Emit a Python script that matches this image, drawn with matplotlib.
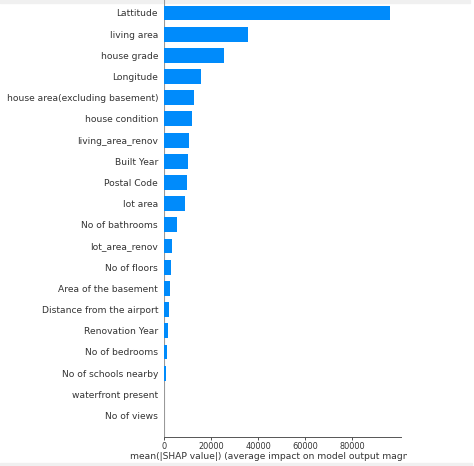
import matplotlib
matplotlib.use('Agg')
import matplotlib.pyplot as plt
from matplotlib.patches import Rectangle
from matplotlib.transforms import Bbox, TransformedBbox

# features, least important first (shap puts the top feature at the top)
features = ['No of views', 'waterfront present', 'No of schools nearby',
            'No of bedrooms', 'Renovation Year', 'Distance from the airport',
            'Area of the basement', 'No of floors', 'lot_area_renov',
            'No of bathrooms', 'lot area', 'Postal Code', 'Built Year',
            'living_area_renov', 'house condition',
            'house area(excluding basement)', 'Longitude', 'house grade',
            'living area', 'Lattitude']
mean_shap = [0, 40, 720, 1100, 1850, 2000, 2550, 2850, 3250, 5700,
             8950, 9650, 10100, 10500, 11800, 12800, 15800, 25700,
             35700, 96000]

axis_color = '#333333'
bar_color = '#008bfb'

fig = plt.figure(figsize=(4.74, 4.66), dpi=100)
W, H = 474.0, 466.0
ax = fig.add_axes([164/W, (H - 436.7)/H, (401 - 164)/W, (436.7 + 8.2)/H])
ax.set_facecolor('none')

y_pos = range(len(features))
ax.axvline(x=0, color='#999999', lw=0.8, zorder=-1)
ax.barh(y_pos, mean_shap, 0.7, align='center', color=bar_color)
ax.set_yticks(list(y_pos))
ax.set_yticklabels(features, fontsize=6.6)
ax.set_ylim(-1, len(features))

ax.xaxis.set_ticks_position('bottom')
ax.yaxis.set_ticks_position('none')
ax.spines['right'].set_visible(False)
ax.spines['top'].set_visible(False)
ax.spines['left'].set_visible(False)
ax.spines['bottom'].set_color('#555555')
ax.spines['bottom'].set_linewidth(0.7)
ax.tick_params(color=axis_color, labelcolor=axis_color)
ax.tick_params('y', pad=0.8)
ax.tick_params('x', labelsize=5.9, length=2.5, width=0.6, pad=1.5)
ax.set_xticks([0, 20000, 40000, 60000, 80000])

lbl = ax.set_xlabel('mean(|SHAP value|) (average impact on model output magnitude)',
                    fontsize=6.6, color=axis_color, labelpad=0.5)
# the reference picture cuts the label off on the right
lbl.set_clip_box(TransformedBbox(Bbox([[0, 0], [407/W, 1]]), fig.transFigure))
lbl.set_clip_on(True)

# faint screenshot borders at top and bottom
fig.patches.append(Rectangle((0, 1 - 3/H), 470/W, 3/H, transform=fig.transFigure,
                             color='#f0f0f0', zorder=-5))
fig.patches.append(Rectangle((0, 0), 472/W, 3.5/H, transform=fig.transFigure,
                             color='#f0f0f0', zorder=-5))

fig.savefig('out.png', dpi=100)
